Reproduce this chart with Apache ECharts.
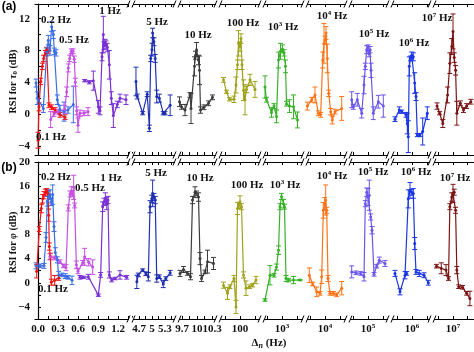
<!DOCTYPE html>
<html>
<head>
<meta charset="utf-8">
<script src="https://cdn.jsdelivr.net/npm/echarts@6/dist/echarts.min.js"></script>
<style>html,body{margin:0;padding:0;background:#fff}#main{width:474px;height:352px}</style>
</head>
<body>
<div id="main"></div>
<script>
// each point: [Δn (Hz), RSI (dB), error bar half height (dB)]
// panel (a): RSI for tau0
var tau01 = [[0.0,-3.3,1.0],[0.015,0.9,0.5],[0.04,4.1,0.4],[0.065,6.0,0.4],[0.085,7.0,0.4],[0.11,7.7,0.3],[0.13,8.1,0.3],[0.15,7.9,0.3],[0.165,1.1,0.3],[0.205,0.85,0.3],[0.255,0.5,0.3],[0.33,-0.1,0.3],[0.405,-0.4,0.3]];
var tau02 = [[-0.03,3.9,0.5],[-0.01,2.0,0.8],[0.08,0.7,0.5],[0.13,7.8,0.5],[0.155,9.3,0.6],[0.18,8.0,0.6],[0.205,11.0,0.6],[0.23,10.0,0.5],[0.245,7.9,0.4],[0.27,7.7,0.4],[0.29,1.8,0.6],[0.33,0.5,0.6],[0.39,0.3,1.2],[0.45,0.5,0.4],[0.53,1.2,2.3]];
var tau05 = [[0.19,-0.7,1.0],[0.24,0.0,0.3],[0.30,0.3,0.3],[0.40,0.6,0.5],[0.43,2.8,0.6],[0.455,5.8,0.5],[0.475,7.0,0.4],[0.50,7.9,0.3],[0.525,7.9,0.3],[0.545,6.9,0.4],[0.56,4.0,0.5],[0.58,0.4,0.5],[0.60,-1.4,0.9],[0.63,0.1,0.4],[0.69,0.1,0.3],[0.75,0.3,0.5]];
var tau1 = [[0.70,4.2,0.15],[0.77,4.0,0.2],[0.83,4.2,1.2],[0.905,0.9,0.8],[0.93,0.4,0.5],[0.96,7.2,0.5],[0.98,10.0,2.3],[0.99,8.6,0.5],[1.005,9.0,0.4],[1.02,8.7,0.5],[1.04,8.4,0.5],[1.07,6.2,1.8],[1.10,2.0,0.8],[1.13,-0.2,1.5],[1.19,1.2,0.4],[1.23,2.0,0.5],[1.32,1.8,0.6]];
var tau5 = [[4.63,4.1,1.8],[4.66,2.2,0.3],[4.785,0.1,0.2],[4.89,2.5,0.3],[4.94,-1.8,0.4],[4.97,7.0,0.4],[5.0,8.1,0.8],[5.015,10.2,0.6],[5.045,9.1,0.5],[5.075,7.0,0.5],[5.11,2.2,0.8],[5.17,2.0,0.5],[5.26,0.1,0.2],[5.3,0.1,0.2],[5.42,1.1,1.3]];
var tau10 = [[9.65,1.55,0.6],[9.69,0.9,0.3],[9.76,0.5,0.7],[9.86,2.4,0.3],[9.88,0.7,1.9],[9.95,6.0,1.2],[9.97,7.4,0.5],[9.99,8.1,0.9],[10.03,6.8,0.6],[10.05,5.5,1.8],[10.07,0.5,0.4],[10.14,0.85,0.3],[10.23,1.35,0.3],[10.31,2.1,0.3]];
var tau1e2 = [[96.7,4.3,0.3],[97.3,2.8,0.2],[97.9,1.85,0.2],[98.8,1.85,0.4],[99.2,3.65,1.0],[99.5,6.2,0.6],[99.7,8.9,1.6],[100,8.5,0.6],[100.2,9.5,0.6],[100.4,6.2,0.6],[100.7,3.0,1.3],[101,1.8,1.9],[101.3,3.1,0.4],[102,4.3,0.7],[103,3.1,1.0]];
var tau1e3 = [[966,3.4,1.4],[969,1.8,0.3],[979,0.2,0.6],[984,1.0,0.3],[989,-0.3,0.8],[993,6.8,1.0],[997,7.9,1.0],[1001,8.2,0.5],[1004,7.7,0.4],[1007,6.0,0.8],[1009,1.3,0.3],[1015,1.0,0.8],[1023,0.9,1.5],[1031,-0.75,1.0]];
var tau1e4 = [[9646,1.0,0.5],[9734,1.8,0.3],[9800,2.4,1.0],[9866,0.1,0.3],[9914,-0.1,0.3],[9954,6.8,1.0],[9980,8.9,2.5],[10000,9.3,0.5],[10020,10.2,0.8],[10046,7.0,1.8],[10074,2.6,0.4],[10114,0.3,0.4],[10146,-0.75,0.5],[10200,0.3,0.3],[10334,0.7,1.5]];
var tau1e5 = [[96740,1.8,1.0],[97060,0.9,0.3],[97860,1.8,0.8],[98740,0.1,0.6],[99200,3.65,1.1],[99460,6.0,0.4],[99740,8.1,0.5],[100000,8.3,0.4],[100200,7.6,0.4],[100400,8.1,0.4],[100600,5.5,0.9],[101060,0.1,0.8],[102060,1.55,0.8],[103060,1.0,1.4]];
var tau1e6 = [[966000,-0.65,0.3],[974600,0.5,0.4],[979400,0.3,0.2],[988000,-0.1,0.3],[990600,-1.2,1.3],[992600,-2.85,2.0],[994600,6.0,1.2],[997400,7.0,0.3],[999400,7.4,0.4],[1002600,7.2,0.5],[1005400,3.9,1.3],[1008000,2.2,0.5],[1010600,-2.65,0.2],[1016000,-2.65,0.2],[1021400,-2.2,1.7],[1030600,0.1,0.8]];
var tau1e7 = [[9666000,1.0,0.4],[9720000,0.1,0.2],[9786000,-1.2,0.5],[9886000,2.4,1.0],[9934000,6.4,1.3],[9974000,8.5,1.0],[10000000,10.4,2.2],[10026000,7.1,0.6],[10054000,5.5,0.6],[10080000,0.1,1.5],[10154000,1.35,0.3],[10220000,0.5,0.3],[10286000,1.0,0.3],[10374000,1.55,0.3]];

// panel (b): RSI for phi
var phi01 = [[-0.02,1.9,1.1],[0.02,8.9,0.4],[0.05,12.3,0.7],[0.07,13.9,0.7],[0.09,14.5,0.6],[0.11,15.0,0.5],[0.13,15.2,0.4],[0.15,14.8,0.5],[0.16,11.2,1.0],[0.17,6.0,0.6],[0.185,4.4,0.5],[0.20,0.1,0.5],[0.25,0.4,0.8],[0.31,0.8,0.4]];
var phi02 = [[-0.03,2.8,0.5],[0.03,2.8,0.3],[0.09,2.8,0.4],[0.12,7.5,0.8],[0.14,13.5,0.8],[0.16,14.2,1.0],[0.18,14.6,0.8],[0.20,13.4,0.6],[0.22,14.6,1.6],[0.24,9.3,0.8],[0.26,5.0,0.8],[0.29,3.8,0.5],[0.31,1.3,0.6],[0.36,1.3,0.3],[0.41,1.1,0.4],[0.45,0.9,0.3],[0.51,0.4,0.7]];
var phi05 = [[0.18,4.3,0.5],[0.25,4.1,0.3],[0.33,3.5,0.3],[0.38,2.8,0.3],[0.42,2.5,0.5],[0.455,12.4,0.5],[0.48,14.7,0.5],[0.50,15.2,0.7],[0.52,14.8,0.5],[0.535,15.8,2.0],[0.55,12.8,0.4],[0.575,3.0,0.6],[0.60,1.9,0.4],[0.67,3.3,0.4],[0.70,4.3,1.4],[0.76,3.4,0.6],[0.82,2.6,1.2]];
var phi1 = [[0.63,0.9,0.3],[0.68,0.9,0.2],[0.755,1.0,0.4],[0.905,-2.05,0.2],[0.94,1.3,0.4],[0.97,12.6,0.8],[0.99,13.4,0.6],[1.01,13.9,1.0],[1.03,13.1,1.0],[1.05,13.7,0.6],[1.07,1.3,0.5],[1.105,0.45,0.3],[1.155,0.7,0.2],[1.23,1.3,0.7],[1.33,0.9,0.3]];
var phi5 = [[4.65,0.15,1.1],[4.685,1.3,0.3],[4.785,2.1,0.2],[4.86,1.5,0.3],[4.915,1.0,0.7],[4.955,12.6,1.0],[4.995,13.9,0.6],[5.015,14.8,2.2],[5.045,14.2,0.6],[5.075,13.7,0.6],[5.11,0.7,0.6],[5.17,1.0,0.3],[5.26,-0.2,0.6],[5.32,0.7,0.3],[5.42,1.65,0.4]];
var phi10 = [[9.66,1.55,0.5],[9.73,2.2,0.5],[9.81,1.55,0.3],[9.87,1.0,0.5],[9.91,13.7,0.6],[9.96,15.0,0.9],[9.99,14.8,0.4],[10.03,14.2,0.7],[10.06,4.0,1.0],[10.09,0.7,0.5],[10.16,1.8,0.3],[10.21,3.5,1.9],[10.33,3.2,1.0]];
var phi1e2 = [[96.7,-0.4,0.5],[97.5,-1.75,1.0],[98.0,-0.65,0.3],[98.8,0.7,0.5],[99.2,-4.0,1.1],[99.5,12.3,1.0],[99.7,12.8,0.5],[100,13.4,1.0],[100.3,12.6,0.5],[100.7,1.3,0.5],[101.2,-0.9,1.2],[101.9,-0.65,0.3],[102.5,-0.4,0.3],[103.2,0.45,0.6]];
var phi1e3 = [[966,-2.85,0.2],[976,1.25,1.6],[984,1.25,0.3],[989,2.6,0.5],[993,5.4,0.7],[996,12.6,0.5],[999,14.3,0.5],[1003,13.1,0.7],[1005,12.6,0.4],[1008,0.7,0.5],[1013,0.45,0.3],[1023,0.45,0.6],[1036,0.45,0.1]];
var phi1e4 = [[9686,1.25,1.2],[9754,-0.2,0.3],[9834,-1.5,0.8],[9900,-1.75,0.3],[9934,1.0,1.1],[9966,12.0,1.3],[9994,13.1,1.0],[10014,13.7,2.5],[10034,12.0,0.5],[10060,0.7,0.5],[10100,-1.75,0.3],[10166,-1.75,0.3],[10234,-2.0,0.3],[10334,-0.9,1.1]];
var phi1e5 = [[96740,1.8,1.0],[97600,1.65,0.3],[98540,1.55,0.3],[99200,1.0,0.7],[99460,13.1,0.5],[99740,15.0,0.7],[100000,14.2,1.4],[100260,14.5,2.5],[100540,10.9,0.5],[100800,8.7,0.6],[101200,1.4,0.3],[101740,2.75,0.3],[102260,3.75,0.5],[103400,3.2,0.5]];
var phi1e6 = [[966000,1.55,0.5],[976000,-1.5,0.5],[986000,1.25,0.6],[989400,1.55,0.3],[992600,13.9,1.5],[996000,15.3,1.3],[999400,15.0,0.5],[1002600,14.8,0.8],[1005400,6.5,1.0],[1008000,1.8,0.4],[1014600,1.55,0.5],[1024000,1.25,0.4],[1032600,0.0,0.4]];
var phi1e7 = [[9654000,2.75,0.3],[9754000,2.4,0.9],[9854000,2.1,0.9],[9906000,0.7,0.3],[9934000,12.6,0.5],[9974000,14.2,0.7],[10000000,14.8,1.5],[10026000,15.0,0.5],[10054000,12.0,0.5],[10080000,2.1,0.6],[10120000,-0.65,0.3],[10200000,-0.75,0.3],[10286000,-1.75,0.3],[10354000,-2.6,1.2]];

// tick labels
var tickSeg1 = [0, 0.3, 0.6, 0.9, 1.2];
var tickSeg2 = [4.7, 5, 5.3];
var tickSeg3 = [9.7, 10, 10.3];
var tickHigh = [100, 1000, 10000, 100000, 1000000, 10000000];
var yTicksA = [-4, 0, 4, 8, 12];
var yTicksB = [-4, 0, 4, 8, 12, 16, 20];

// broken x axis: one grid per segment
var segEdges = [35, 131, 177, 218, 262, 305, 348, 390, 432, 476];
var segRange = [[-0.045, 1.395], [4.515, 5.578], [9.6, 10.42], [95.6, 104.4], [960, 1046],
                [9600, 10460], [96000, 104400], [956000, 1040000], [9560000, 10440000]];
var segLabels = [tickSeg1, tickSeg2, tickSeg3].concat(tickHigh.map(function (f) { return [f]; }));
var segTicks = [
  [0, 0.15, 0.3, 0.45, 0.6, 0.75, 0.9, 1.05, 1.2, 1.35],
  [4.55, 4.7, 4.85, 5, 5.15, 5.3, 5.45],
  [9.7, 9.85, 10, 10.15, 10.3]
].concat(tickHigh.map(function (f) { return [f * 0.97, f, f * 1.03]; }));

var curves = [
  {seg: 0, color: '#f01212', a: tau01, b: phi01},
  {seg: 0, color: '#3a6ee6', a: tau02, b: phi02},
  {seg: 0, color: '#c64fe4', a: tau05, b: phi05},
  {seg: 0, color: '#7a30d4', a: tau1, b: phi1},
  {seg: 1, color: '#1f2fb2', a: tau5, b: phi5},
  {seg: 2, color: '#3c3c3c', a: tau10, b: phi10},
  {seg: 3, color: '#a0a21c', a: tau1e2, b: phi1e2},
  {seg: 4, color: '#36b226', a: tau1e3, b: phi1e3},
  {seg: 5, color: '#ff7416', a: tau1e4, b: phi1e4},
  {seg: 6, color: '#6a56ea', a: tau1e5, b: phi1e5},
  {seg: 7, color: '#1a36e4', a: tau1e6, b: phi1e6},
  {seg: 8, color: '#7c1414', a: tau1e7, b: phi1e7}
];

function hz(exp) { return '{b|10}{s|' + exp + '}{b| Hz}'; }
var labelsA = [['{b|0.2 Hz}', 56, 20], ['{b|0.5 Hz}', 74, 40], ['{b|1 Hz}', 110, 11], ['{b|0.1 Hz}', 51, 137],
  ['{b|5 Hz}', 157, 22], ['{b|10 Hz}', 198, 35], ['{b|100 Hz}', 243, 23], [hz(3), 283, 27],
  [hz(4), 332, 16], [hz(5), 374, 34], [hz(6), 414, 43], [hz(7), 437, 18]];
var labelsB = [['{b|0.2 Hz}', 56, 177], ['{b|0.5 Hz}', 90, 188], ['{b|1 Hz}', 111, 178], ['{b|0.1 Hz}', 53, 289],
  ['{b|5 Hz}', 156, 173], ['{b|10 Hz}', 200, 178], ['{b|100 Hz}', 247, 185], [hz(3), 285, 185],
  [hz(4), 332, 176], [hz(5), 373, 172], [hz(6), 416, 172], [hz(7), 455, 178]];

var SERIF = 'Liberation Serif';
var richTxt = {
  b: {fontSize: 11, fontWeight: 'bold', fontFamily: SERIF, lineHeight: 13, fill: '#111', color: '#111'},
  s: {fontSize: 7, fontWeight: 'bold', fontFamily: SERIF, lineHeight: 7, verticalAlign: 'top', fill: '#111', color: '#111'}
};
var richName = {
  n: {fontSize: 10, fontWeight: 'bold', fontFamily: SERIF, lineHeight: 12, fill: '#111'},
  i: {fontSize: 10, fontWeight: 'bold', fontStyle: 'italic', fontFamily: SERIF, lineHeight: 12, fill: '#111'},
  sub: {fontSize: 7, fontWeight: 'bold', fontFamily: SERIF, lineHeight: 7, verticalAlign: 'bottom', fill: '#111'}
};

var panels = [
  {top: 4, bottom: 155, min: -5.16, max: 13.85, ticks: yTicksA, name: '{n|RSI for }{i|τ}{sub|0}{n| (dB)}'},
  {top: 162, bottom: 319, min: -6, max: 20, ticks: yTicksB, name: '{n|RSI for }{i|φ}{n| (dB)}'}
];

function evenTicks(min, max) {
  var out = [];
  for (var v = Math.ceil(min / 2) * 2; v <= max; v += 2) out.push(v);
  return out;
}

function xFormatter(s) {
  return function (v) {
    if (s === 0) return '{b|' + v.toFixed(1) + '}';
    if (s < 3) return '{b|' + v + '}';
    if (s === 3) return '{b|100}';
    return '{b|10}{s|' + (s - 1) + '}';
  };
}

function errBar(color) {
  return function (params, api) {
    var x = api.value(0), y = api.value(1), e = api.value(2);
    var hi = api.coord([x, y + e]), lo = api.coord([x, y - e]);
    var w = 2.5, st = {stroke: color, lineWidth: 1};
    return {type: 'group', children: [
      {type: 'line', shape: {x1: hi[0], y1: hi[1], x2: lo[0], y2: lo[1]}, style: st},
      {type: 'line', shape: {x1: hi[0] - w, y1: hi[1], x2: hi[0] + w, y2: hi[1]}, style: st},
      {type: 'line', shape: {x1: lo[0] - w, y1: lo[1], x2: lo[0] + w, y2: lo[1]}, style: st}
    ]};
  };
}

var grids = [], xAxes = [], yAxes = [], series = [], graphics = [];

panels.forEach(function (p, pi) {
  for (var s = 0; s < 9; s++) {
    var g = grids.length;
    grids.push({left: segEdges[s], top: p.top, width: segEdges[s + 1] - segEdges[s], height: p.bottom - p.top});
    ['bottom', 'top'].forEach(function (pos) {
      xAxes.push({
        type: 'value', gridIndex: g, position: pos,
        min: segRange[s][0], max: segRange[s][1],
        axisLine: {show: true, onZero: false, lineStyle: {color: '#000', width: 1.2}},
        axisTick: {show: true, inside: true, length: 3, customValues: segTicks[s], lineStyle: {color: '#000'}},
        axisLabel: {show: pi === 1 && pos === 'bottom', customValues: segLabels[s], formatter: xFormatter(s),
                    margin: 4, rich: richTxt},
        splitLine: {show: false}
      });
    });
    yAxes.push({
      type: 'value', gridIndex: g, min: p.min, max: p.max, show: s === 0,
      axisLine: {show: true, lineStyle: {color: '#000', width: 1.2}},
      axisTick: {show: true, inside: true, length: 3, customValues: evenTicks(p.min, p.max), lineStyle: {color: '#000'}},
      axisLabel: {customValues: p.ticks, margin: 5, fontSize: 11, fontWeight: 'bold', fontFamily: SERIF, color: '#111',
                  formatter: function (v) { return String(v).replace('-', '\u2212'); }},
      splitLine: {show: false}
    });
  }
  // rotated y axis title
  graphics.push({type: 'text', x: 13, y: (p.top + p.bottom) / 2 + 2, rotation: Math.PI / 2, z: 110,
    style: {text: p.name, rich: richName, align: 'center', verticalAlign: 'middle'}});
});

curves.forEach(function (c) {
  [c.a, c.b].forEach(function (d, pi) {
    var g = pi * 9 + c.seg;
    series.push({
      type: 'line', xAxisIndex: 2 * g, yAxisIndex: g,
      data: d.map(function (r) { return [r[0], r[1]]; }),
      symbol: 'circle', symbolSize: 3, showSymbol: true,
      lineStyle: {color: c.color, width: 1.2}, itemStyle: {color: c.color},
      animation: false, z: 3
    });
    series.push({
      type: 'custom', xAxisIndex: 2 * g, yAxisIndex: g, data: d,
      encode: {x: 0, y: 1}, renderItem: errBar(c.color), animation: false, z: 2
    });
  });
});

// axis break marks "//" on every frame line
panels.forEach(function (p) {
  [p.top, p.bottom].forEach(function (y) {
    for (var s = 1; s < 9; s++) {
      var b = segEdges[s];
      graphics.push({type: 'rect', shape: {x: b - 2, y: y - 1.5, width: 4, height: 3}, style: {fill: '#fff'}, z: 100});
      graphics.push({type: 'line', shape: {x1: b - 4, y1: y + 3.5, x2: b - 1, y2: y - 3.5}, style: {stroke: '#000', lineWidth: 1}, z: 101});
      graphics.push({type: 'line', shape: {x1: b + 1, y1: y + 3.5, x2: b + 4, y2: y - 3.5}, style: {stroke: '#000', lineWidth: 1}, z: 101});
    }
  });
});

labelsA.concat(labelsB).forEach(function (l) {
  graphics.push({type: 'text', x: l[1], y: l[2], z: 110,
    style: {text: l[0], rich: richTxt, align: 'center', verticalAlign: 'middle'}});
});

graphics.push({type: 'text', x: 9, y: 7, z: 110, style: {text: '(a)', fill: '#000', font: 'bold 12px Liberation Sans', align: 'center', verticalAlign: 'middle'}});
graphics.push({type: 'text', x: 9, y: 168, z: 110, style: {text: '(b)', fill: '#000', font: 'bold 12px Liberation Sans', align: 'center', verticalAlign: 'middle'}});
graphics.push({type: 'text', x: 269, y: 343, z: 110, style: {
  text: '{b|\u0394}{sub|n}{b| (Hz)}', align: 'center', verticalAlign: 'middle',
  rich: {
    b: {fontSize: 11, fontWeight: 'bold', fontFamily: SERIF, lineHeight: 14, fill: '#111'},
    sub: {fontSize: 8, fontWeight: 'bold', fontStyle: 'italic', fontFamily: SERIF, lineHeight: 8, verticalAlign: 'bottom', fill: '#111'}
  }}});

var chart = echarts.init(document.getElementById('main'));
chart.setOption({
  backgroundColor: '#fff',
  animation: false,
  grid: grids,
  xAxis: xAxes,
  yAxis: yAxes,
  series: series,
  graphic: graphics
});
</script>
</body>
</html>
